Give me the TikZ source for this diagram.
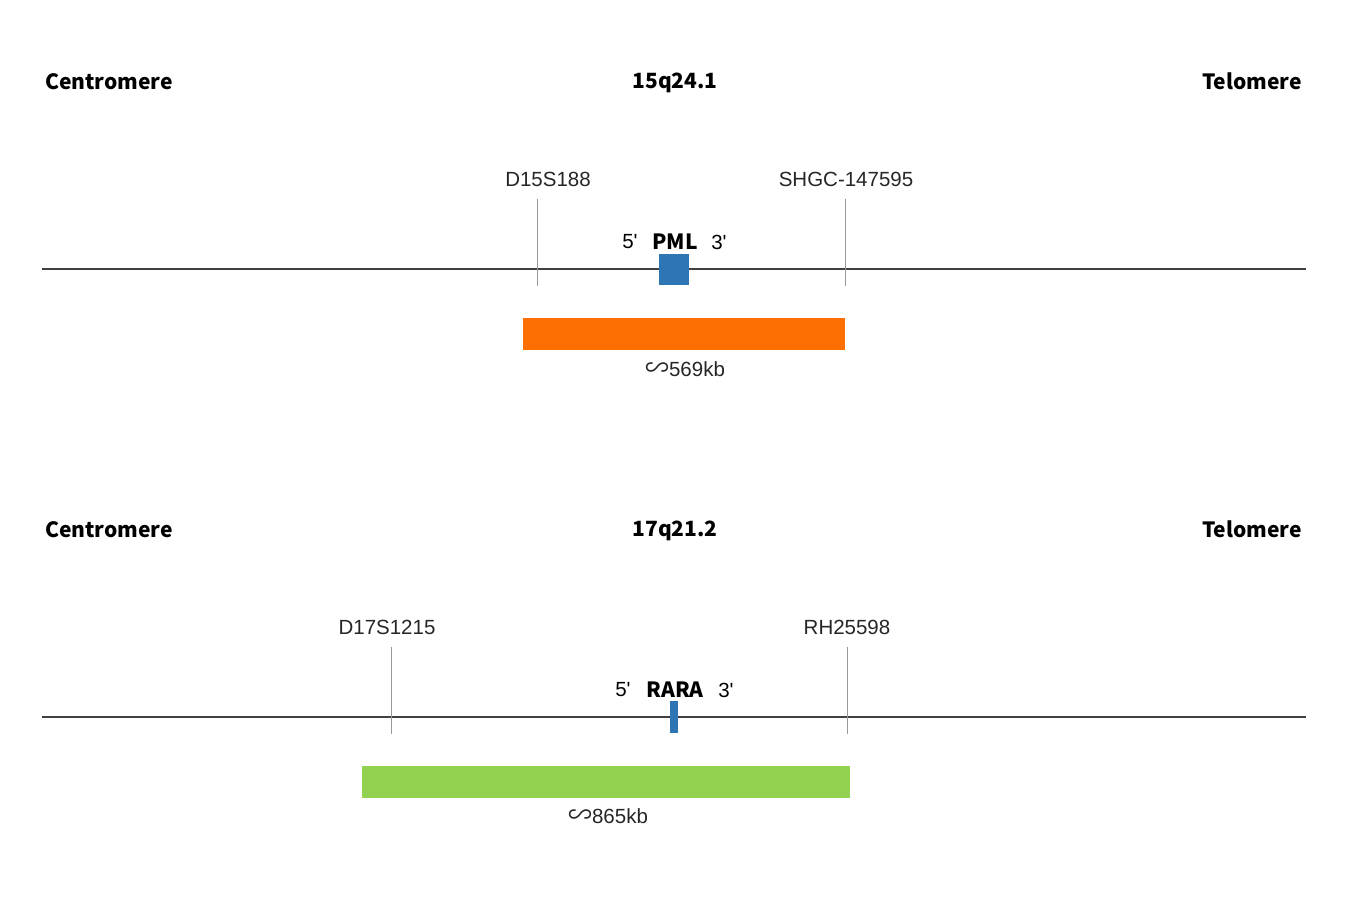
\documentclass[tikz,border=0pt]{standalone}
\usepackage{fontspec}
\setmainfont{Noto Sans CJK SC}
\newfontfamily\lsans{Liberation Sans}
\begin{document}
\begin{tikzpicture}[x=1pt,y=-1pt,
  boldlbl/.style={font=\fontsize{21}{24}\selectfont\bfseries, inner sep=0pt},
  mrklbl/.style={font=\lsans\fontsize{20.5}{24}\selectfont, inner sep=0pt, text=black!85},
  genelbl/.style={font=\fontsize{21}{24}\selectfont\bfseries, inner sep=0pt},
  primelbl/.style={font=\lsans\fontsize{20.5}{24}\selectfont, inner sep=0pt},
  chrline/.style={draw=black!75, line width=1.2pt},
  mrkline/.style={draw=black!40, line width=0.9pt},
  genebox/.style={fill=blueG, draw=none},
]
\definecolor{blueG}{HTML}{2E75B6}
\definecolor{orangeP}{HTML}{FC6F00}
\definecolor{greenP}{HTML}{92D050}
\useasboundingbox (0,0) rectangle (1350,900);
\fill[white] (0,0) rectangle (1350,900);

% ---------- Top: 15q24.1 ----------
\node[boldlbl, anchor=base west] (cen1) at (45,89) {Centromere};
\node[boldlbl, anchor=base] (band1) at (675,88.5) {15q24.1};
\node[boldlbl, anchor=base east] (tel1) at (1302,89) {Telomere};
\node[mrklbl] (m1a) at (548,179) {D15S188};
\node[mrklbl] (m1b) at (846,179) {SHGC-147595};
\coordinate (l1s) at (42,269);
\coordinate (l1e) at (1306,269);
\draw[chrline] (l1s) -- (l1e);
\coordinate (v1at) at (537,199); \coordinate (v1ab) at (537,286);
\coordinate (v1bt) at (845,199); \coordinate (v1bb) at (845,286);
\draw[mrkline] (v1at) -- (v1ab);
\draw[mrkline] (v1bt) -- (v1bb);
\node[genebox, minimum width=30pt, minimum height=31pt, inner sep=0pt] (pml) at (674,269.5) {};
\node[primelbl] (p5a) at (630,242) {5\textquotesingle};
\node[genelbl, anchor=base] (pmll) at (675,249) {PML};
\node[primelbl] (p3a) at (719,242) {3\textquotesingle};
\node[fill=orangeP, minimum width=322pt, minimum height=32pt, inner sep=0pt] (probe1) at (684,334) {};
\node[mrklbl] (kb1) at (685,369) {{\rmfamily\fontsize{24}{24}\selectfont ∽}569kb};

% ---------- Bottom: 17q21.2 ----------
\node[boldlbl, anchor=base west] (cen2) at (45,537) {Centromere};
\node[boldlbl, anchor=base] (band2) at (675,536.5) {17q21.2};
\node[boldlbl, anchor=base east] (tel2) at (1302,537) {Telomere};
\node[mrklbl] (m2a) at (387,627) {D17S1215};
\node[mrklbl] (m2b) at (847,627) {RH25598};
\coordinate (l2s) at (42,717);
\coordinate (l2e) at (1306,717);
\draw[chrline] (l2s) -- (l2e);
\coordinate (v2at) at (391,647); \coordinate (v2ab) at (391,734);
\coordinate (v2bt) at (847,647); \coordinate (v2bb) at (847,734);
\draw[mrkline] (v2at) -- (v2ab);
\draw[mrkline] (v2bt) -- (v2bb);
\node[genebox, minimum width=8pt, minimum height=32pt, inner sep=0pt] (rara) at (674,717) {};
\node[primelbl] (p5b) at (623,690) {5\textquotesingle};
\node[genelbl, anchor=base] (raral) at (675,697) {RARA};
\node[primelbl] (p3b) at (726,690) {3\textquotesingle};
\node[fill=greenP, minimum width=488pt, minimum height=32pt, inner sep=0pt] (probe2) at (606,782) {};
\node[mrklbl] (kb2) at (608,816) {{\rmfamily\fontsize{24}{24}\selectfont ∽}865kb};
\end{tikzpicture}
\end{document}
